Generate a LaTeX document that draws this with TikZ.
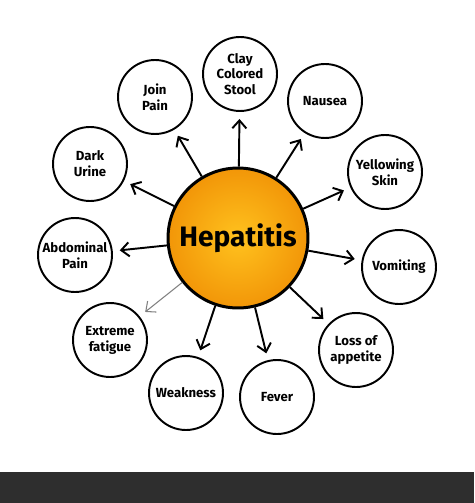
\documentclass[tikz,border=0pt]{standalone}
\usepackage{fontspec}
\setmainfont{Fira Sans}
\usetikzlibrary{arrows.meta}
\definecolor{hepin}{HTML}{FFC21E}
\definecolor{hepout}{HTML}{F29608}
\definecolor{barcol}{HTML}{2E2E2E}
\tikzset{
  sym/.style={circle, draw, line width=1.1pt, minimum size=1.48cm, inner sep=0pt,
    align=center, font=\bfseries\fontsize{7.5}{9}\selectfont},
  hub/.style={circle, draw, line width=1.7pt, minimum size=2.8cm,
    inner color=hepin, outer color=hepout, font=\bfseries\fontsize{16}{18}\selectfont},
  arr/.style={-{Straight Barb[length=4.5pt,width=8pt]}, line width=1.1pt, shorten >=4pt},
  arrfaint/.style={arr, line width=0.6pt, draw=gray}
}

\begin{document}
\begin{tikzpicture}[x=0.02cm, y=-0.02cm]
			\useasboundingbox (0, 0) rectangle (474, 503);
			\fill[white] (0, 0) rectangle (474, 503);
			\fill[barcol] (0, 472) rectangle (474, 503);

			%%draw the hub
			\node[hub] (hep) at (238, 238){Hepatitis};

			%%draw the symptoms, clockwise from the top
			\node[sym] (stool) at (240, 74){Clay\\Colored\\Stool};
			\node[sym] (nausea) at (325, 101){Nausea};
			\node[sym] (skin) at (385, 172){Yellowing\\Skin};
			\node[sym] (vomit) at (399, 267){Vomiting};
			\node[sym] (appetite) at (356, 350){Loss of\\appetite};
			\node[sym] (fever) at (277, 397){Fever};
			\node[sym] (weak) at (186, 393){Weakness};
			\node[sym] (fatigue) at (110, 340){Extreme\\fatigue};
			\node[sym] (abdo) at (75, 255){Abdominal\\Pain};
			\node[sym] (urine) at (90, 164){Dark\\Urine};
			\node[sym] (joint) at (155, 97){Join\\Pain};

			%%draw the arrows
			\draw[arr] (hep) -- (stool);
			\draw[arr] (hep) -- (nausea);
			\draw[arr] (hep) -- (skin);
			\draw[arr] (hep) -- (vomit);
			\draw[arr] (hep) -- (appetite);
			\draw[arr] (hep) -- (fever);
			\draw[arr] (hep) -- (weak);
			\draw[arrfaint] (hep) -- (fatigue);
			\draw[arr] (hep) -- (abdo);
			\draw[arr] (hep) -- (urine);
			\draw[arr] (hep) -- (joint);
\end{tikzpicture}
\end{document}
